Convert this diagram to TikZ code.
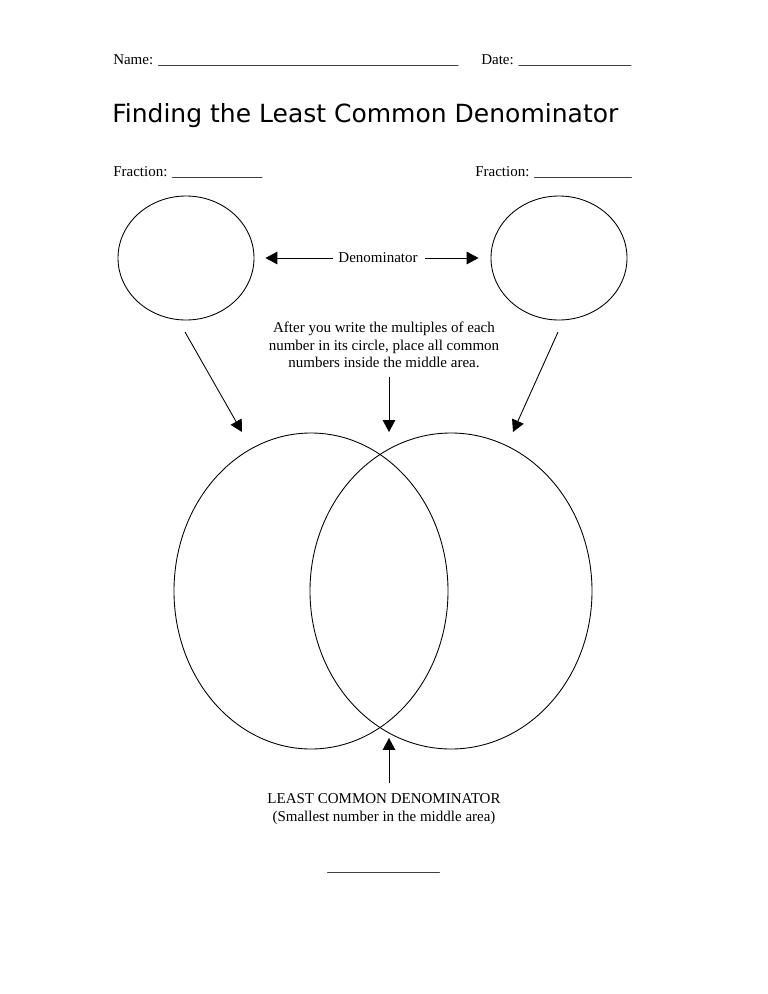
\documentclass[tikz,border=0pt]{standalone}
\usepackage{fontspec}
\setmainfont{Liberation Serif}
\newfontfamily\titlefont{DejaVu Sans}
\usetikzlibrary{arrows.meta, shapes.geometric}
\newcommand{\pxu}{0.02811cm}

\begin{document}
\begin{tikzpicture}[
  x=\pxu, y=-\pxu,
  every node/.style={inner sep=0pt, font=\fontsize{12}{14}\selectfont},
  hdr/.style={anchor=base west},
  ring/.style={ellipse, draw, line width=0.7pt},
  arr/.style={-{Triangle[length=9.5pt,width=10pt]}, line width=0.7pt}
]
  \fill[white] (0,0) rectangle (768,994);
  \useasboundingbox (0,0) rectangle (768,994);

  % --- Header ---
  \node[hdr] (name) at (113,64) {Name: \_\_\_\_\_\_\_\_\_\_\_\_\_\_\_\_\_\_\_\_\_\_\_\_\_\_\_\_\_\_\_\_\_\_\_\_\_\_\_\_};
  \node[hdr] (date) at (481,64) {Date: \_\_\_\_\_\_\_\_\_\_\_\_\_\_\_};
  \node[hdr, font=\titlefont\fontsize{20}{24}\selectfont] (title) at (112,122)
    {Finding the Least Common Denominator};

  % --- Fractions and their circles ---
  \node[hdr] (fracL) at (113,176) {Fraction: \_\_\_\_\_\_\_\_\_\_\_\_};
  \node[hdr] (fracR) at (475,176) {Fraction: \_\_\_\_\_\_\_\_\_\_\_\_\_};
  \node[ring, minimum width=136*\pxu, minimum height=124*\pxu] (lc) at (186,258) {};
  \node[ring, minimum width=136*\pxu, minimum height=124*\pxu] (rc) at (559,258) {};

  \node (denom) at (378,258) {Denominator};
  \draw[arr, shorten >=11*\pxu] ([xshift=-5*\pxu]denom.west) -- (lc.east);
  \draw[arr, shorten >=12*\pxu] ([xshift=7*\pxu]denom.east) -- (rc.west);

  % --- Note ---
  \node[align=center] (note) at (384,345)
    {After you write the multiples of each\\
     number in its circle, place all common\\
     numbers inside the middle area.};

  % --- Venn diagram ---
  \node[ring, minimum width=274*\pxu, minimum height=316*\pxu] (vl) at (311,591) {};
  \node[ring, minimum width=282*\pxu, minimum height=316*\pxu] (vr) at (451,591) {};

  \coordinate (l0) at (185,332);
  \coordinate (l1) at (242,432);
  \coordinate (m0) at (389,377);
  \coordinate (m1) at (389,432);
  \coordinate (r0) at (558,332);
  \coordinate (r1) at (513,432);
  \draw[arr] (l0) -- (l1);
  \draw[arr] (m0) -- (m1);
  \draw[arr] (r0) -- (r1);

  % --- Result ---
  \node[align=center] (lcd) at (384,809)
    {LEAST COMMON DENOMINATOR\\(Smallest number in the middle area)};
  \coordinate (b0) at (389,783);
  \coordinate (b1) at (389,738);
  \draw[arr] (b0) -- (b1);
  \node[hdr] (answer) at (327,871) {\_\_\_\_\_\_\_\_\_\_\_\_\_\_\_};
\end{tikzpicture}
\end{document}
